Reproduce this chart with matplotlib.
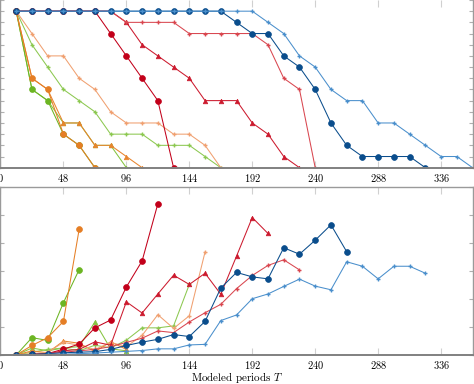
import numpy as np
import matplotlib.pyplot as plt

plt.rcParams['mathtext.fontset'] = 'cm'
plt.rcParams['font.family'] = 'serif'
plt.rcParams['font.serif'] = ['DejaVu Serif']

# modeled periods (step of 12)
periods = np.arange(12, 361, 12)

# top panel values (count per period)
top_green_tri = [14, 7, 6, 4, 4, 2, 2, 0]
top_green_circ = [14, 7, 6, 3, 2, 0]
top_green_plus = [14, 11, 9, 7, 6, 5, 3, 3, 3, 2, 2, 2, 1, 0]
top_orange_tri = [14, 8, 7, 4, 4, 2, 2, 1, 0]
top_orange_circ = [14, 8, 7, 3, 2, 0]
top_orange_plus = [14, 12, 10, 10, 8, 7, 5, 4, 4, 4, 3, 3, 2, 0]
top_red_circ = [14, 14, 14, 14, 14, 14, 12, 10, 8, 6, 0]
top_red_tri = [14, 14, 14, 14, 14, 14, 14, 13, 11, 10, 9, 8, 6, 6, 6, 4, 3, 1, 0]
top_red_plus = [14, 14, 14, 14, 14, 14, 14, 13, 13, 13, 13, 12, 12, 12, 12, 12, 11, 8, 7, 0]
top_blue_circ = [14] * 14 + [13, 12, 12, 10, 9, 7, 4, 2, 1, 1, 1, 1, 0]
top_blue_plus = [14] * 16 + [13, 12, 10, 9, 7, 6, 6, 4, 4, 3, 2, 1, 1, 0]

# bottom panel values
bot_green_tri = [0, 0.25, 0.15, 0.25, 0.3, 1.18, 0.22, 0.15]
bot_green_circ = [0, 0.62, 0.52, 1.87, 3.05]
bot_green_plus = [0, 0.1, 0.2, 0.25, 0.15, 0.35, 0.25, 0.53, 0.97, 0.97, 1.04, 2.52]
bot_orange_tri = [0, 0.15, 0.08, 0.5, 0.42, 0.12, 0.47, 0.2]
bot_orange_circ = [0, 0.34, 0.62, 1.2, 4.49]
bot_orange_plus = [0, 0.05, 0.1, 0.45, 0.35, 0.2, 0.45, 0.3, 0.7, 1.44, 0.95, 1.4, 3.68]
bot_red_circ = [0, 0.02, 0.05, 0.21, 0.39, 0.97, 1.25, 2.43, 3.36, 5.4]
bot_red_tri = [0, 0.02, 0.05, 0.15, 0.2, 0.47, 0.35, 1.9, 1.5, 2.18, 2.85, 2.52,
               2.92, 2.17, 3.53, 4.91, 4.34]
bot_red_plus = [0, 0.02, 0.05, 0.1, 0.15, 0.2, 0.3, 0.45, 0.6, 0.86, 0.8, 1.18,
                1.51, 1.81, 2.37, 2.84, 3.2, 3.4, 3.04]
bot_blue_circ = [0, 0.02, 0.05, 0.08, 0.1, 0.12, 0.2, 0.34, 0.46, 0.56, 0.73, 0.66,
                 1.2, 2.39, 2.95, 2.79, 2.72, 3.83, 3.6, 4.1, 4.65, 3.69]
bot_blue_plus = [0, 0, 0.02, 0.03, 0.05, 0.07, 0.1, 0.13, 0.16, 0.22, 0.22, 0.36,
                 0.38, 1.23, 1.43, 2.01, 2.18, 2.45, 2.71, 2.46, 2.33, 3.33, 3.17,
                 2.72, 3.17, 3.17, 2.92]

xticks = [0, 48, 96, 144, 192, 240, 288, 336]

# colours / markers per series
styles = {
    'green_tri': ('#86c440', '^', 3.3),
    'green_circ': ('#6cb523', 'o', 4.2),
    'green_plus': ('#8cc850', '+', 3.3),
    'orange_tri': ('#e8842e', '^', 3.3),
    'orange_circ': ('#e57e25', 'o', 4.2),
    'orange_plus': ('#f0a070', '+', 3.3),
    'red_circ': ('#c2001a', 'o', 4.2),
    'red_tri': ('#cc1a2e', '^', 3.3),
    'red_plus': ('#d9464f', '+', 3.3),
    'blue_circ': ('#0a4d8c', 'o', 4.2),
    'blue_plus': ('#4a8fcc', '+', 3.3),
}

top_data = {
    'green_tri': top_green_tri, 'green_circ': top_green_circ, 'green_plus': top_green_plus,
    'orange_tri': top_orange_tri, 'orange_circ': top_orange_circ, 'orange_plus': top_orange_plus,
    'red_circ': top_red_circ, 'red_tri': top_red_tri, 'red_plus': top_red_plus,
    'blue_circ': top_blue_circ, 'blue_plus': top_blue_plus,
}
bot_data = {
    'green_tri': bot_green_tri, 'green_circ': bot_green_circ, 'green_plus': bot_green_plus,
    'orange_tri': bot_orange_tri, 'orange_circ': bot_orange_circ, 'orange_plus': bot_orange_plus,
    'red_circ': bot_red_circ, 'red_tri': bot_red_tri, 'red_plus': bot_red_plus,
    'blue_circ': bot_blue_circ, 'blue_plus': bot_blue_plus,
}

fig = plt.figure(figsize=(4.74, 3.84), dpi=100)
ax1 = fig.add_axes([0.001, 0.5633, 0.996, 0.4367])
ax2 = fig.add_axes([0.001, 0.0755, 0.996, 0.4375])


def draw(ax, data, ymax):
    for key, vals in data.items():
        col, mk, ms = styles[key]
        x = periods[:len(vals)]
        ax.plot(x, vals, color=col, marker=mk, markersize=ms, linewidth=0.75,
                markeredgewidth=1.0 if mk == '+' else 0.5, markeredgecolor=col)
    ax.set_xlim(0, 360)
    ax.set_ylim(0, ymax)
    ax.set_xticks(xticks)
    ax.set_xticklabels(['$%d$' % t for t in xticks], fontsize=7.5)
    ax.set_yticks(np.arange(0, ymax + 0.01, 1))
    ax.tick_params(axis='x', direction='in', length=5, color='#d0d0d0',
                   top=True, bottom=True, pad=3)
    ax.tick_params(axis='y', direction='in', length=3, color='#b0b0b0',
                   left=True, right=True, labelleft=False)
    for s in ax.spines.values():
        s.set_color('#9a9a9a')
        s.set_linewidth(1.0)
    ax.spines['bottom'].set_color('#808080')
    ax.spines['bottom'].set_linewidth(1.4)


draw(ax1, top_data, 15)
draw(ax2, bot_data, 6)
ax1.spines['top'].set_visible(False)
ax2.set_xlabel(r'$\mathrm{Modeled\ periods}\ T$', fontsize=8, labelpad=-1)

plt.savefig('out.png', dpi=100)
plt.close()
